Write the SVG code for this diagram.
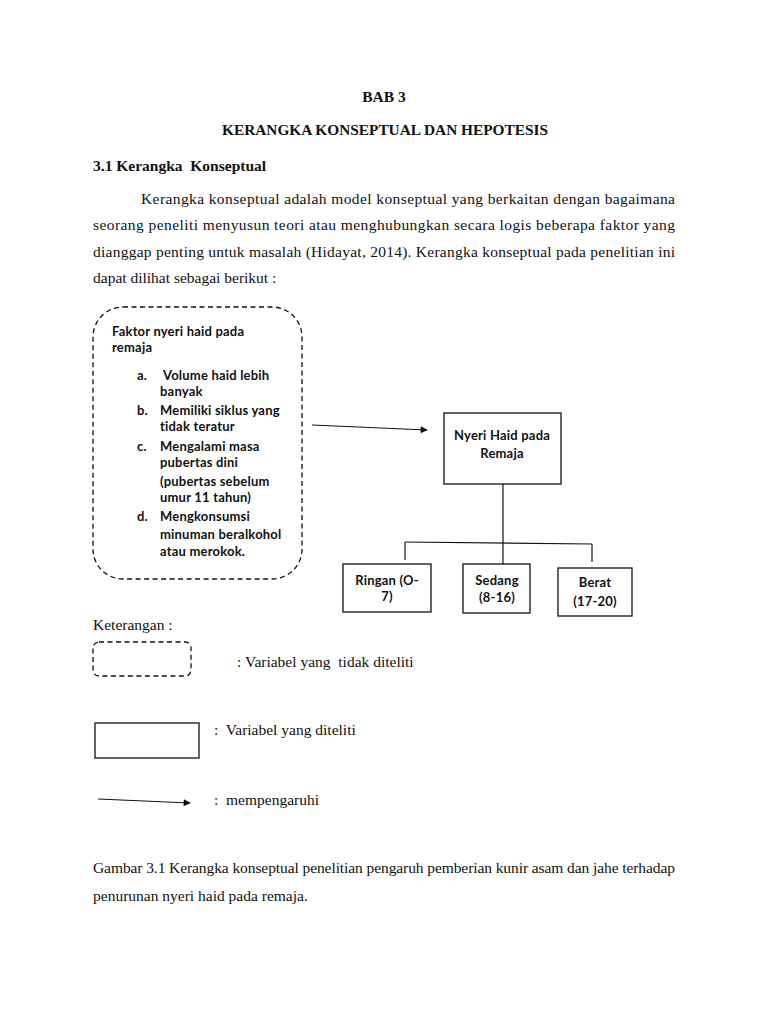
<svg xmlns="http://www.w3.org/2000/svg" width="768" height="1024" viewBox="0 0 768 1024">
<style>
.t{font-family:"Liberation Serif","Times New Roman",serif;font-size:15.5px;fill:#111}
.b{font-weight:bold}
.c{font-family:"Lato","Open Sans","Liberation Sans",sans-serif;font-size:13px;fill:#111;font-weight:bold;letter-spacing:0.2px}
.ln{stroke:#111;stroke-width:1.2;fill:none}
.box{fill:#fff;stroke:#111;stroke-width:1.3}
.dash{fill:none;stroke:#111;stroke-width:1.3;stroke-dasharray:5,3.5}
</style>
<defs>
<marker id="ah" viewBox="0 0 10 10" refX="9" refY="5" markerWidth="9" markerHeight="7" markerUnits="userSpaceOnUse" orient="auto">
<path d="M0,0 L10,5 L0,10 z" fill="#111"/>
</marker>
</defs>
<rect width="768" height="1024" fill="#fff"/>
<text class="t b" x="384" y="102" text-anchor="middle">BAB 3</text>
<text class="t b" x="385" y="135" text-anchor="middle" textLength="326" lengthAdjust="spacingAndGlyphs">KERANGKA KONSEPTUAL DAN HEPOTESIS</text>
<text class="t b" x="93" y="171" xml:space="preserve">3.1 Kerangka  Konseptual</text>
<text class="t" x="141" y="204" textLength="534" lengthAdjust="spacing">Kerangka konseptual adalah model konseptual yang berkaitan dengan bagaimana</text>
<text class="t" x="93" y="230" textLength="582" lengthAdjust="spacing">seorang peneliti menyusun teori atau menghubungkan secara logis beberapa faktor yang</text>
<text class="t" x="93" y="257" textLength="582" lengthAdjust="spacing">dianggap penting untuk masalah (Hidayat, 2014). Kerangka konseptual pada penelitian ini</text>
<text class="t" x="93" y="283">dapat dilihat sebagai berikut :</text>

<g id="faktor">
<rect class="dash" x="93" y="307" width="209" height="272" rx="30" ry="30"/>
<text class="c" x="112" y="336">Faktor nyeri haid pada</text>
<text class="c" x="112" y="352">remaja</text>
<text class="c" x="137" y="380">a.</text><text class="c" x="163" y="380">Volume haid lebih</text>
<text class="c" x="160" y="396">banyak</text>
<text class="c" x="137" y="415">b.</text><text class="c" x="160" y="415">Memiliki siklus yang</text>
<text class="c" x="160" y="431">tidak teratur</text>
<text class="c" x="137" y="451">c.</text><text class="c" x="160" y="451">Mengalami masa</text>
<text class="c" x="160" y="467">pubertas dini</text>
<text class="c" x="160" y="486">(pubertas sebelum</text>
<text class="c" x="160" y="502">umur 11 tahun)</text>
<text class="c" x="137" y="521">d.</text><text class="c" x="160" y="521">Mengkonsumsi</text>
<text class="c" x="160" y="539">minuman beralkohol</text>
<text class="c" x="160" y="556">atau merokok.</text>
</g>

<g id="nyeri">
<rect class="box" x="444" y="413" width="117" height="71"/>
<text class="c" x="502" y="440" text-anchor="middle">Nyeri Haid pada</text>
<text class="c" x="502" y="458" text-anchor="middle">Remaja</text>
</g>
<g id="ringan">
<rect class="box" x="343" y="564" width="88" height="48"/>
<text class="c" x="387" y="585" text-anchor="middle">Ringan (O-</text>
<text class="c" x="387" y="601" text-anchor="middle">7)</text>
</g>
<g id="sedang">
<rect class="box" x="463" y="564" width="67" height="49" stroke-width="2"/>
<text class="c" x="497" y="585" text-anchor="middle">Sedang</text>
<text class="c" x="497" y="602" text-anchor="middle">(8-16)</text>
</g>
<g id="berat">
<rect class="box" x="558" y="568" width="74" height="48"/>
<text class="c" x="595" y="587" text-anchor="middle">Berat</text>
<text class="c" x="595" y="606" text-anchor="middle">(17-20)</text>
</g>

<g id="connectors">
<line class="ln" x1="312" y1="425" x2="427" y2="430" marker-end="url(#ah)"/>
<line class="ln" x1="503" y1="484" x2="503" y2="564"/>
<line class="ln" x1="405" y1="542" x2="592" y2="544"/>
<line class="ln" x1="405" y1="542" x2="405" y2="560"/>
<line class="ln" x1="592" y1="544" x2="592" y2="562"/>
</g>

<g id="legend">
<text class="t" x="93" y="630">Keterangan :</text>
<rect class="dash" x="93" y="642" width="98" height="34" rx="6" ry="6"/>
<text class="t" x="237" y="667" xml:space="preserve">: Variabel yang  tidak diteliti</text>
<rect class="box" x="95" y="723" width="104" height="35"/>
<text class="t" x="214" y="735" xml:space="preserve">:  Variabel yang diteliti</text>
<line class="ln" x1="98" y1="799" x2="190" y2="803" marker-end="url(#ah)"/>
<text class="t" x="214" y="805" xml:space="preserve">:  mempengaruhi</text>
</g>

<text class="t" x="93" y="873" textLength="582" lengthAdjust="spacing">Gambar 3.1 Kerangka konseptual penelitian pengaruh pemberian kunir asam dan jahe terhadap</text>
<text class="t" x="93" y="901">penurunan nyeri haid pada remaja.</text>
</svg>
